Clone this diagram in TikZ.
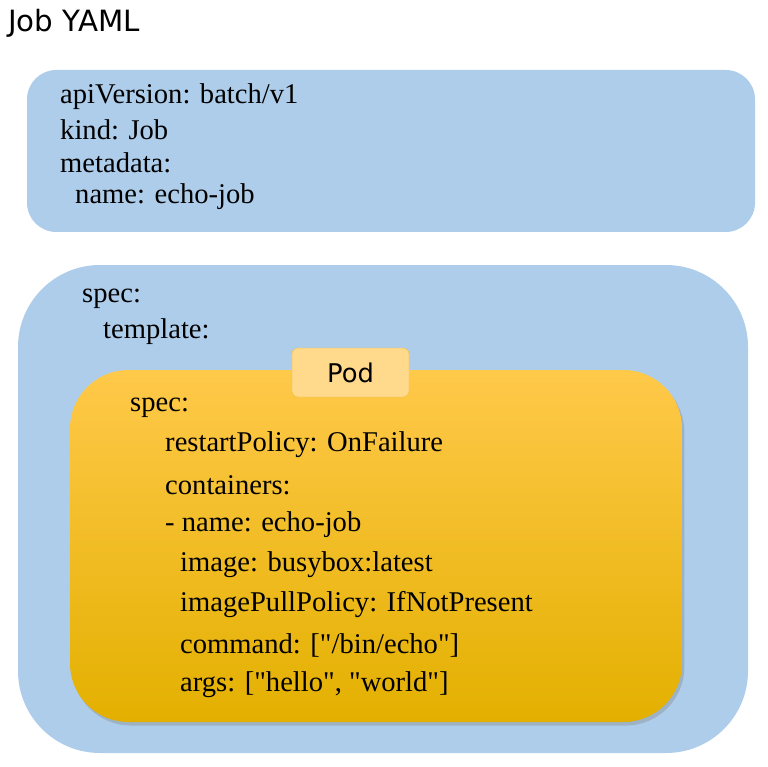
\documentclass[tikz,border=0pt]{standalone}
\usepackage{fontspec}
\setmainfont{Liberation Serif}
\newfontfamily\titlefont{DejaVu Sans}
\usetikzlibrary{shadows}
\definecolor{paleblue}{HTML}{AECDEA}
\definecolor{podtop}{HTML}{FFC94A}
\definecolor{podmid}{HTML}{FFC20A}
\definecolor{podbot}{HTML}{E3B000}
\definecolor{tabfill}{HTML}{FFD98C}
\definecolor{tabline}{HTML}{F2C040}
\newcommand{\qq}{\textquotedbl}
\begin{document}
\begin{tikzpicture}[x=0.03cm,y=-0.03cm,
  yaml/.style={anchor=west,inner sep=0pt,font=\fontsize{24.4}{28}\selectfont},
  blue box/.style={fill=paleblue,draw=none}]
\useasboundingbox (0,0) rectangle (768,766);
\node[anchor=west,inner sep=0pt,font=\titlefont\fontsize{25}{28}\selectfont] (title) at (8,23) {Job YAML};
% top box
\fill[blue box,rounded corners=25] (27,70) rectangle (755,232);
\node[yaml] (av) at (60,97) {apiVersion: batch/v1};
\node[yaml] (kd) at (60,130) {kind: Job};
\node[yaml] (md) at (60,163) {metadata:};
\node[yaml] (nm) at (75,197) {name: echo-job};
% spec box
\fill[blue box,rounded corners=70] (18,265) rectangle (748,753);
\node[yaml] (sp) at (82,299) {spec:};
\node[yaml] (tp) at (103,332) {template:};
% pod box
\shade[top color=podtop,middle color=podmid,bottom color=podbot,rounded corners=50,
  drop shadow={shadow xshift=2pt,shadow yshift=-3pt,opacity=0.35}]
  (70,370) rectangle (682,722);
\node[draw=tabline,fill=tabfill,rounded corners=5,minimum width=117*0.03cm,
  minimum height=49*0.03cm,font=\titlefont\fontsize{22}{26}\selectfont] (pod) at (350.5,372.5) {Pod};
\node[yaml] (ps) at (130,408) {spec:};
\node[yaml] (rp) at (165,445) {restartPolicy: OnFailure};
\node[yaml] (ct) at (165,485) {containers:};
\node[yaml] (cn) at (165,525) {- name: echo-job};
\node[yaml] (im) at (180,565) {image: busybox:latest};
\node[yaml] (ip) at (180,605) {imagePullPolicy: IfNotPresent};
\node[yaml] (cm) at (180,645) {command: [\qq/bin/echo\qq]};
\node[yaml] (ar) at (180,685) {args: [\qq hello\qq, \qq world\qq]};
\end{tikzpicture}
\end{document}
